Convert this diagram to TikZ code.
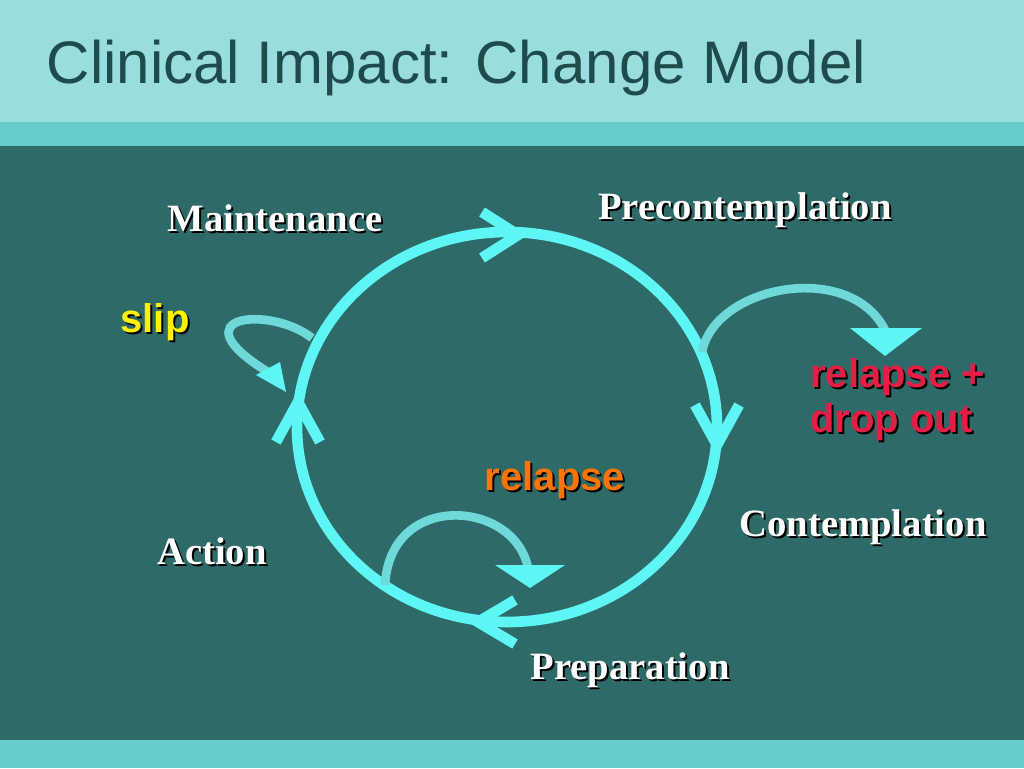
\documentclass[tikz,border=0pt]{standalone}
\usepackage{fontspec}
\setmainfont{Liberation Serif}
\setsansfont{Liberation Sans}
\begin{document}
\begin{tikzpicture}[x=0.75pt,y=-0.75pt,
  ring/.style={draw=cyanA,line width=8pt},
  chev/.style={draw=cyanA,line width=8pt,line join=miter},
  band/.style={draw=cyanB,line width=6.5pt},
  stage/.style={font=\bfseries\fontsize{29}{33}\selectfont,text=white},
  shadow/.style={font=\bfseries\fontsize{29}{33}\selectfont,text=black},
  sans/.style={font=\sffamily\bfseries\fontsize{30}{34}\selectfont}]
\definecolor{cyanA}{HTML}{5EF5F5}
\definecolor{cyanB}{HTML}{6FD8D8}
\definecolor{topbg}{HTML}{99DEDC}
\definecolor{stripe}{HTML}{66CCCC}
\definecolor{mainbg}{HTML}{2E6A68}
\useasboundingbox (0,0) rectangle (1024,768);
\fill[topbg] (0,0) rectangle (1024,122);
\fill[stripe] (0,122) rectangle (1024,146);
\fill[mainbg] (0,146) rectangle (1024,740);
\fill[stripe] (0,740) rectangle (1024,768);
\node[anchor=west,font=\sffamily\fontsize{45}{50}\selectfont,text={rgb,255:red,30;green,75;blue,75}] (title) at (42,68) {Clinical Impact: Change Model};
% ring
\coordinate (c) at (507,427);
\draw[ring] (c) ellipse [x radius=210, y radius=195];
% chevrons
\draw[chev] (482,212) -- (518,235) -- (482,258);
\draw[chev] (695,405) -- (717,445) -- (739,405);
\draw[chev] (515,600) -- (478,622) -- (515,644);
\draw[chev] (276,442) -- (298,402) -- (320,442);
% relapse + drop out arc
\coordinate (d1) at (702,352);
\coordinate (d2) at (885,330);
\draw[band] (d1) .. controls (715,285) and (850,260) .. (d2);
\fill[cyanA] (850,328) -- (922,328) -- (885,356) -- cycle;
% slip arc
\coordinate (s1) at (312,338);
\coordinate (s2) at (268,372);
\draw[band] (s1) .. controls (270,305) and (175,315) .. (s2);
\fill[cyanA] (256,375) -- (286,392) -- (280,362) -- cycle;
% small relapse arc
\coordinate (r1) at (385,585);
\coordinate (r2) at (528,568);
\draw[band] (r1) .. controls (390,490) and (515,500) .. (r2);
\fill[cyanA] (495,565) -- (565,565) -- (530,588) -- cycle;
% labels
\foreach \n/\x/\y/\t in {m/275/218/Maintenance, p/745/210/Precontemplation, co/863/527/Contemplation, pr/630/670/Preparation, a/212/551/Action}{
  \node[shadow] at (\x+2,\y+2) {\t};
  \node[stage] (\n) at (\x,\y) {\t};
}
\node[sans,text=black] at (157,324) {slip};
\node[sans,text=yellow] (slip) at (155,322) {slip};
\node[sans,text=black] at (557,482) {relapse};
\node[sans,text=orange!90!red] (rel) at (555,480) {relapse};
\node[sans,anchor=north west,align=left,text=black,inner sep=0] at (812,360) {relapse +\\drop out};
\node[sans,anchor=north west,align=left,text={rgb,255:red,230;green,30;blue,70},inner sep=0] (rd) at (810,358) {relapse +\\drop out};
\end{tikzpicture}
\end{document}
